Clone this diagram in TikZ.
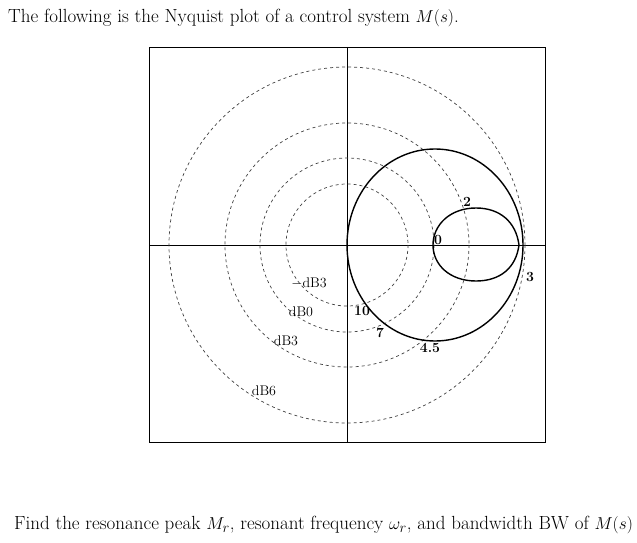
\documentclass[tikz,border=0pt]{standalone}
\begin{document}
\begin{tikzpicture}[x=1pt,y=-1pt,
  dcirc/.style={draw=black!75,dashed,line width=0.7pt,dash pattern=on 3pt off 3pt},
  solid curve/.style={draw,line width=1.4pt},
  axis/.style={draw,line width=0.9pt},
  num/.style={font=\fontsize{14}{15}\selectfont\bfseries,inner sep=0.5pt},
  db/.style={font=\fontsize{14}{15}\selectfont,inner sep=0.5pt},
  txt/.style={font=\fontsize{19}{21}\selectfont,inner sep=0pt,anchor=west}]
\useasboundingbox (0,0) rectangle (637,543);
\draw[axis] (149,47) rectangle (545,442);
\draw[axis] (149,245) -- (545,245);
\draw[axis] (347,47) -- (347,442);
\coordinate (o) at (347,245);
\foreach \r in {61,87,122,178} \draw[dcirc] (o) circle (\r);
\draw[solid curve] (435,245) ellipse (88 and 96);
\draw[solid curve] (519,245) .. controls (516,222) and (500,208) .. (476,208)
  .. controls (450,208) and (433,225) .. (433,245)
  .. controls (433,265) and (450,281) .. (476,281)
  .. controls (500,281) and (516,268) .. (519,245);
\node[num] (n0) at (438,240) {0};
\node[num] (n2) at (467,202) {2};
\node[num] (n3) at (530,277) {3};
\node[num] (n10) at (362,311) {10};
\node[num] (n7) at (380,333) {7};
\node[num] (n45) at (430,348) {4.5};
\node[db] (d1) at (309,283) {$-$dB3};
\node[db] (d2) at (301,312) {dB0};
\node[db] (d3) at (286,341) {dB3};
\node[db] (d4) at (264,391) {dB6};
\node[txt] (t1) at (8,18) {The following is the Nyquist plot of a control system $M(s)$.};
\node[txt] (t2) at (14,525) {Find the resonance peak $M_r$, resonant frequency $\omega_r$, and bandwidth BW of $M(s)$};
\end{tikzpicture}
\end{document}
